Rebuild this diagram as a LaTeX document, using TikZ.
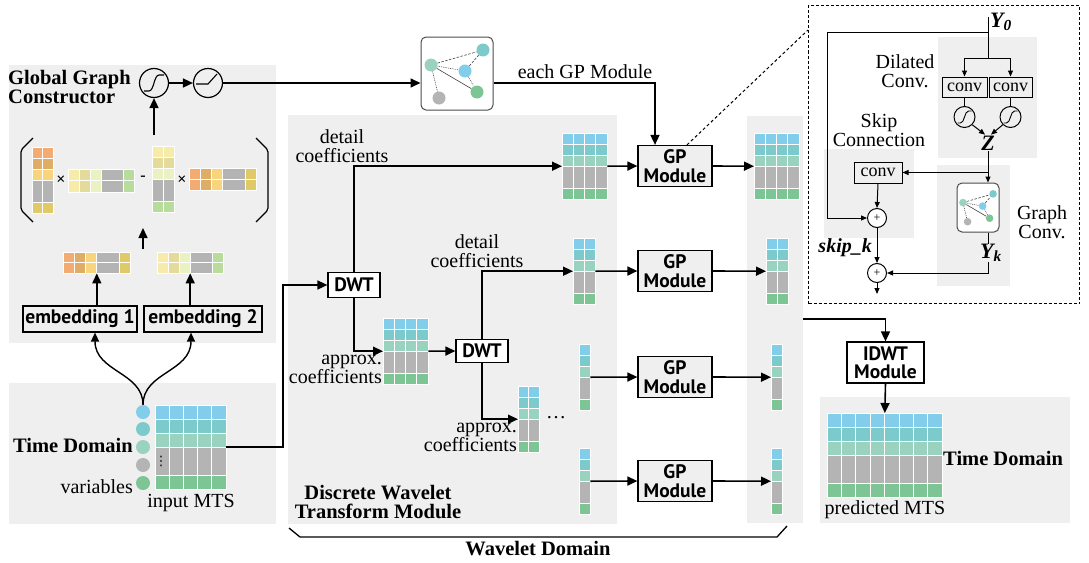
\documentclass[tikz,border=0pt]{standalone}
\usepackage{fontspec}
\setmainfont{Liberation Serif}
\setsansfont{PT Sans}
\newfontfamily\djv{DejaVu Sans}
\usetikzlibrary{arrows.meta,calc}
\definecolor{cblue}{HTML}{82CDEA}
\definecolor{cteal}{HTML}{7CCACB}
\definecolor{cmint}{HTML}{99D2BE}
\definecolor{cgray}{HTML}{B4B4B4}
\definecolor{cgreen}{HTML}{7DC594}
\definecolor{corange}{HTML}{F4AB72}
\definecolor{ctan}{HTML}{E0AD66}
\definecolor{cyel}{HTML}{F8D47C}
\definecolor{colive}{HTML}{E0CA68}
\definecolor{cpy}{HTML}{F6EBA8}
\definecolor{cpo}{HTML}{E4DB9B}
\definecolor{cpg}{HTML}{EAF1C2}
\definecolor{clg}{HTML}{B7DC9B}
\definecolor{bgc}{HTML}{EFEFEF}
\newcommand{\tSer}{\fontsize{20}{19}\selectfont}
\newcommand{\tBold}{\fontsize{20.5}{19.5}\selectfont\bfseries}
\newcommand{\tSans}{\fontsize{19.5}{18.5}\selectfont\sffamily\bfseries}
\newcommand{\tConv}{\fontsize{18}{18}\selectfont}
\newcommand{\tOp}{\fontsize{16}{16}\selectfont\bfseries}
\newcommand{\tBI}{\fontsize{22}{22}\selectfont\bfseries\itshape}
\newcommand{\tBIs}{\fontsize{20}{20}\selectfont\bfseries\itshape}
\newcommand{\tPlus}{\fontsize{12}{12}\selectfont}
\def\embA{0/1/corange,1/1/ctan,2/1/cyel,3/2/cgray,5/1/colive}
\def\embB{0/1/cpy,1/1/cpo,2/1/cpg,3/2/cgray,5/1/clg}
\def\stdlist{0/1/cblue,1/1/cteal,2/1/cmint,3/2/cgray,5/1/cgreen}
% horizontal 2-row embedding matrix: name,x,y,unit w,row h,list
\newcommand{\hmat}[6]{%
 \node[inner sep=0,minimum width={6*#4},minimum height={2*#5},anchor=north west] (#1) at (#2,#3) {};
 \foreach \pO/\pW/\pC in #6 {
  \filldraw[fill=\pC,cell] ({#2+\pO*#4},{#3}) rectangle ++({\pW*#4},{#5});
  \filldraw[fill=\pC,cell] ({#2+\pO*#4},{#3+#5}) rectangle ++({\pW*#4},{#5});
 }}
% vertical 2-col embedding matrix: name,x,y,cell w,unit h,list
\newcommand{\vemat}[6]{%
 \node[inner sep=0,minimum width={2*#4},minimum height={6*#5},anchor=north west] (#1) at (#2,#3) {};
 \foreach \pO/\pW/\pC in #6 {
  \filldraw[fill=\pC,cell] ({#2},{#3+\pO*#5}) rectangle ++({#4},{\pW*#5});
  \filldraw[fill=\pC,cell] ({#2+#4},{#3+\pO*#5}) rectangle ++({#4},{\pW*#5});
 }}
% standard MTS matrix: name,x,y,ncols,cell w,unit h
\newcommand{\smat}[6]{%
 \node[inner sep=0,minimum width={#4*#5},minimum height={6*#6},anchor=north west] (#1) at (#2,#3) {};
 \foreach \pO/\pW/\pC in \stdlist {
  \foreach \pK in {1,...,#4} {
   \filldraw[fill=\pC,cell] ({#2+(\pK-1)*#5},{#3+\pO*#6}) rectangle ++({#5},{\pW*#6});
  }}}
% graph icon: name,cx,cy,scale,w,h,node radius
\newcommand{\gicon}[7]{%
 \node[draw=black!70,line width=1pt,fill=white,rounded corners=5pt,minimum width=#5,minimum height=#6,inner sep=0] (#1) at (#2,#3) {};
 \node[gnode,fill=cmint,minimum size={2*#7}] (#1a) at ({#2-26*#4},{#3-8.5*#4}) {};
 \node[gnode,fill=cteal,minimum size={2*#7}] (#1b) at ({#2+26*#4},{#3-23.5*#4}) {};
 \node[gnode,fill=cblue,minimum size={2*#7}] (#1c) at ({#2+8*#4},{#3-2.5*#4}) {};
 \node[gnode,fill=cgreen,minimum size={2*#7}] (#1d) at ({#2+20*#4},{#3+18.5*#4}) {};
 \node[gnode,fill=cgray,minimum size={2*#7}] (#1e) at ({#2-18*#4},{#3+24.5*#4}) {};
 \draw[gedge,dash pattern=on 2.5pt off 1.5pt] (#1a) -- (#1b);
 \draw[gedge,dash pattern=on 0.8pt off 1pt] (#1a) -- (#1c);
 \draw[gedge] (#1a) -- (#1d);
 \draw[gedge,dash pattern=on 0.8pt off 1pt] (#1a) -- (#1e);
 \draw[gedge,dash pattern=on 2.5pt off 1.5pt] (#1c) -- (#1b);
 \draw[gedge,dash pattern=on 0.8pt off 1pt] (#1c) -- (#1d);
}
\tikzset{
 region/.style={fill=bgc,draw=none,inner sep=0},
 cell/.style={draw=white,line width=0.9pt},
 box/.style={draw=black,line width=1.2pt,inner sep=0,font=\tSans,align=center},
 cbox/.style={draw=black,line width=1pt,inner sep=0,font=\tConv,fill=bgc},
 arr/.style={line width=1.6pt,-{Triangle[length=10pt,width=9pt]}},
 carr/.style={line width=1.4pt,-{Triangle[length=9pt,width=8pt]}},
 sarr/.style={line width=1pt,-{Triangle[length=6pt,width=5pt]}},
 ln/.style={line width=1pt},
 txt/.style={inner sep=0,font=\tSer,align=center},
 btxt/.style={inner sep=0,font=\tBold,align=center},
 gedge/.style={line width=0.6pt,draw=black!75},
 gnode/.style={circle,inner sep=0,draw=none},
 dot/.style={circle,inner sep=0,minimum size=14},
 fcirc/.style={circle,draw,line width=1.2pt,minimum size=29,inner sep=0},
 adder/.style={circle,draw,fill=white,line width=1pt,minimum size=19,inner sep=0,font=\tPlus},
}
\begin{document}
\begin{tikzpicture}[x=1pt,y=-1pt]
\useasboundingbox (0,0) rectangle (1089,562);
% ---------- regions ----------
\node[region,minimum width=267,minimum height=278,anchor=north west] (ggc) at (9,65) {};
\node[region,minimum width=267,minimum height=141,anchor=north west] (tdl) at (9,383) {};
\node[region,minimum width=329,minimum height=409,anchor=north west] (dwtm) at (288,115) {};
\node[region,minimum width=56,minimum height=407,anchor=north west] (outreg) at (747,116) {};
\node[region,minimum width=250,minimum height=126,anchor=north west] (tdr) at (820,397) {};
\node[draw,line width=1pt,dash pattern=on 3pt off 2pt,minimum width=271,minimum height=298,anchor=north west,inner sep=0] (inset) at (808,5) {};
\node[region,minimum width=99,minimum height=121,anchor=north west] (dil) at (938,37) {};
\node[region,minimum width=90,minimum height=89,anchor=north west] (skr) at (824,149) {};
\node[region,minimum width=73,minimum height=121,anchor=north west] (gcr) at (937,165) {};

% ---------- Global Graph Constructor ----------
\node[btxt,anchor=west,align=left] (ggct) at (8,87) {Global Graph\\Constructor};
\node[fcirc] (sig) at (154,83) {};
\node[fcirc] (relu) at (208,83) {};
\begin{scope}[shift={(sig.center)}]
 \draw[line width=1.1pt] (-10,8) -- (-5,8) .. controls (0,8) and (0,-8) .. (5,-8) -- (10,-8);
\end{scope}
\begin{scope}[shift={(relu.center)}]
 \draw[line width=1.1pt] (-12,1) -- (0,1) -- (9,-9);
\end{scope}
\hmat{e1o}{63}{252}{11.2}{10.5}{\embA}
\hmat{e2o}{157}{252}{11}{10.5}{\embB}
\vemat{v1}{32}{147}{10.5}{11}{\embA}
\hmat{h1}{68}{169}{11}{11.5}{\embB}
\vemat{v2}{152}{146}{11}{11}{\embB}
\hmat{h2}{189}{168}{11.2}{11}{\embA}
\node[inner sep=0,font=\tOp] (x1) at (61,180) {×};
\node[inner sep=0,font=\tOp] (mn) at (143,178) {-};
\node[inner sep=0,font=\tOp] (x2) at (182,180) {×};
\draw[line width=1.2pt,rounded corners=2pt] (33,138) -- (21,150) -- (21,210) -- (33,222);
\draw[line width=1.2pt,rounded corners=2pt] (256,138) -- (268,150) -- (268,210) -- (256,222);
\coordinate (prodtop) at (154,135);
\coordinate (embup1) at (143,249);
\coordinate (embup2) at (143,228);
\draw[arr] (prodtop) -- (sig.south);
\draw[arr] (sig.east) -- (relu.west);
\draw[arr] (embup1) -- (embup2);
\node[box,minimum width=114,minimum height=26] (emb1) at (80,319) {embedding 1};
\node[box,minimum width=118,minimum height=26] (emb2) at (203,319) {embedding 2};
\draw[arr] (emb1.north -| e1o.south) -- (e1o.south);
\draw[arr] (emb2.north -| e2o.south) -- (e2o.south);

% ---------- Time Domain (input) ----------
\node[dot,fill=cblue] (d1) at (143,412) {};
\node[dot,fill=cteal] (d2) at (143,429) {};
\node[dot,fill=cmint] (d3) at (143,447) {};
\node[dot,fill=cgray] (d4) at (143,465) {};
\node[dot,fill=cgreen] (d5) at (143,483) {};
\smat{inm}{155}{405}{5}{14.2}{14}
\node[inner sep=0,font=\djv\fontsize{13}{13}\selectfont] (vd) at (161,461) {⋮};
\node[btxt,anchor=east] (tdlt) at (133,445) {Time Domain};
\node[txt,anchor=east] (vart) at (133,487) {variables};
\node[txt] (inmt) at (191,503) {input MTS};
\draw[carr] (d1.north) .. controls (143,372) and (95,372) .. ([xshift=15pt]emb1.south);
\draw[carr] (d1.north) .. controls (143,372) and (191,372) .. ([xshift=-12pt]emb2.south);

% ---------- DWT module ----------
\node[box,fill=white,minimum width=52,minimum height=25] (dwt1) at (354,285) {DWT};
\node[box,fill=white,minimum width=52,minimum height=23] (dwt2) at (482,351) {DWT};
\coordinate (t1) at (283,285);
\draw[arr] (inm.east) -| (t1) -- (dwt1.west);
\smat{det1}{562}{133}{4}{11.25}{11}
\smat{app1}{383}{318}{4}{11.25}{11}
\smat{det2}{573}{238}{2}{11}{11}
\smat{app2}{518}{386}{2}{10.5}{11}
\smat{c3}{579}{344}{1}{11}{11}
\smat{c4}{579}{448}{1}{11}{11}
\draw[arr] (dwt1.north) |- (det1.west);
\draw[arr] (dwt1.south) |- (app1.west);
\draw[arr] (app1.east) -- (dwt2.west);
\draw[arr] (dwt2.north) |- (det2.west);
\draw[arr] (dwt2.south) |- (app2.west);
\node[txt] (dc1) at (342,146) {detail\\coefficients};
\node[txt] (dc2) at (477,251) {detail\\coefficients};
\node[txt,anchor=east,align=right] (ac1) at (382,369) {approx.\\coefficients};
\node[txt,anchor=east,align=right] (ac2) at (517,437) {approx.\\coefficients};
\node[txt] (ell) at (556,418) {\dots};
\node[btxt] (dwtt) at (378,502) {Discrete Wavelet\\Transform Module};

% ---------- GP modules ----------
\node[box,fill=bgc,minimum width=74,minimum height=41] (gp1) at (675,166) {GP\\Module};
\node[box,fill=bgc,minimum width=74,minimum height=41] (gp2) at (675,271) {GP\\Module};
\node[box,fill=bgc,minimum width=74,minimum height=41] (gp3) at (675,377) {GP\\Module};
\node[box,fill=bgc,minimum width=74,minimum height=41] (gp4) at (675,481) {GP\\Module};
\smat{o1}{754}{133}{4}{11.25}{11}
\smat{o2}{766}{238}{2}{11}{11}
\smat{o3}{771}{344}{1}{11}{11}
\smat{o4}{771}{448}{1}{11}{11}
\draw[arr] (det1.east) -- (gp1.west);
\draw[arr] (det2.east) -- (gp2.west);
\draw[arr] (c3.east) -- (gp3.west);
\draw[arr] (c4.east) -- (gp4.west);
\draw[arr] (gp1.east) -- (o1.west);
\draw[arr] (gp2.east) -- (o2.west);
\draw[arr] (gp3.east) -- (o3.west);
\draw[arr] (gp4.east) -- (o4.west);

% ---------- graph icon ----------
\gicon{gi}{457}{73.5}{1}{72}{73}{6.5}
\draw[arr] (relu.east) -- (relu.east -| gi.west);
\draw[arr] (gi.east |- relu.east) -| ([xshift=-20pt]gp1.north);
\node[txt] (egp) at (585,72) {each GP Module};
\draw[line width=1pt,dash pattern=on 3pt off 2.5pt] ([xshift=12pt]gp1.north) -- ([yshift=-25pt]inset.north west);

% ---------- IDWT and output ----------
\node[box,fill=white,minimum width=77,minimum height=41] (idwt) at (885.5,362.5) {IDWT\\Module};
\coordinate (oc) at (803,319);
\draw[arr] (oc) -| (idwt.north);
\smat{pred}{827}{413}{8}{14.4}{14}
\draw[arr] (idwt.south) -- (pred.north);
\node[btxt,anchor=west] (tdrt) at (943,458) {Time Domain};
\node[txt] (predt) at (885,510) {predicted MTS};

% ---------- wavelet domain brace ----------
\draw[line width=1.3pt] (289,528) -- (300,537) -- (777,537) -- (787,526);
\node[btxt] (wdt) at (538,549) {Wavelet Domain};

% ---------- inset ----------
\node[inner sep=0,font=\tBI] (y0) at (1001,22) {Y\textsubscript{0}};
\coordinate (ytop) at (988,17);
\coordinate (ysplit) at (988,58);
\coordinate (yleft) at (988,32);
\draw[ln] (ytop) -- (ysplit);
\node[cbox,minimum width=45,minimum height=20] (cv1) at (964.5,87) {conv};
\node[cbox,minimum width=43,minimum height=20] (cv2) at (1010.5,87) {conv};
\draw[sarr] (ysplit) -| (cv1.north);
\draw[sarr] (ysplit) -| (cv2.north);
\node[circle,draw,line width=1pt,minimum size=21,inner sep=0] (s1) at (964.5,117) {};
\node[circle,draw,line width=1pt,minimum size=21,inner sep=0] (s2) at (1010.5,117) {};
\begin{scope}[shift={(s1.center)}]
 \draw[line width=0.9pt] (-7,6) -- (-4,6) .. controls (0,6) and (0,-6) .. (4,-6) -- (7,-6);
\end{scope}
\begin{scope}[shift={(s2.center)}]
 \draw[line width=0.9pt] (-7,6) -- (-4,6) .. controls (0,6) and (0,-6) .. (4,-6) -- (7,-6);
\end{scope}
\draw[ln] (cv1.south) -- (s1.north);
\draw[ln] (cv2.south) -- (s2.north);
\node[inner sep=1pt,font=\tBI] (zz) at (988,143) {Z};
\draw[sarr] (s1.south east) -- ([xshift=-3pt]zz.north);
\draw[sarr] (s2.south west) -- ([xshift=3pt]zz.north);
\node[txt] (dct) at (905,71) {Dilated\\Conv.};
\node[txt] (sct) at (879,130) {Skip\\Connection};
\node[cbox,minimum width=48,minimum height=21] (skc) at (878,172.5) {conv};
\gicon{gj}{978}{207.5}{0.58}{42}{49}{3.8}
\draw[sarr] (zz.south) -- (zz.south |- gj.north);
\draw[sarr] (zz.south |- skc.east) -- (skc.east);
\node[txt] (gct) at (1042,222) {Graph\\Conv.};
\node[inner sep=0,font=\tBI] (yk) at (991,253) {Y\textsubscript{k}};
\node[adder] (add1) at (877,218) {+};
\node[adder] (add2) at (877,273) {+};
\draw[ln] (zz.south |- gj.south) -- (zz.south |- yk.north);
\draw[sarr] (zz.south |- yk.south) |- (add2.east);
\coordinate (lcorner) at (827,218);
\draw[sarr] (yleft) -| (lcorner) -- (add1.west);
\draw[sarr] (skc.south) -- (add1.north);
\draw[sarr] (add1.south) -- (add2.north);
\coordinate (outb) at (877,294);
\draw[sarr] (add2.south) -- (outb);
\node[inner sep=0,font=\tBIs,anchor=east] (skk) at (872,248) {skip\_k};
\end{tikzpicture}
\end{document}
